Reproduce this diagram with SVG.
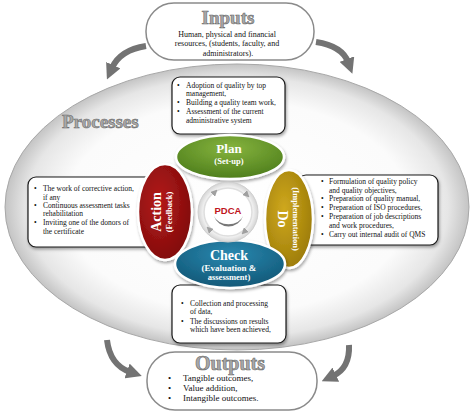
<svg xmlns="http://www.w3.org/2000/svg" width="474" height="413" viewBox="0 0 474 413">
<defs>
  <radialGradient id="gBig" cx="0.5" cy="0.5" r="0.5">
    <stop offset="0" stop-color="#ffffff"/>
    <stop offset="0.74" stop-color="#fbfbfb"/>
    <stop offset="0.91" stop-color="#e6e6e6"/>
    <stop offset="1" stop-color="#c4c4c4"/>
  </radialGradient>
  <radialGradient id="gPlan" cx="0.5" cy="0.3" r="0.7">
    <stop offset="0" stop-color="#86b43e"/>
    <stop offset="1" stop-color="#4e7e1c"/>
  </radialGradient>
  <radialGradient id="gDo" cx="0.4" cy="0.4" r="0.7">
    <stop offset="0" stop-color="#cfa81e"/>
    <stop offset="1" stop-color="#987806"/>
  </radialGradient>
  <radialGradient id="gAct" cx="0.4" cy="0.4" r="0.7">
    <stop offset="0" stop-color="#b41a1a"/>
    <stop offset="1" stop-color="#7c0a0a"/>
  </radialGradient>
  <radialGradient id="gChk" cx="0.5" cy="0.3" r="0.7">
    <stop offset="0" stop-color="#2a88b0"/>
    <stop offset="1" stop-color="#115877"/>
  </radialGradient>
  <radialGradient id="gPdca" cx="0.5" cy="0.5" r="0.5">
    <stop offset="0" stop-color="#ffffff"/>
    <stop offset="0.75" stop-color="#ffffff"/>
    <stop offset="1" stop-color="#d4d4d4"/>
  </radialGradient>
  <filter id="sh" x="-20%" y="-20%" width="140%" height="140%">
    <feDropShadow dx="1" dy="2" stdDeviation="1.5" flood-color="#000" flood-opacity="0.35"/>
  </filter>
  <marker id="ah" viewBox="0 0 10 10" refX="2" refY="5" markerWidth="2.6" markerHeight="2.6" orient="auto" markerUnits="strokeWidth">
    <path d="M0,0 L10,5 L0,10 z" fill="#737373"/>
  </marker>
  <marker id="sa" viewBox="0 0 10 10" refX="5" refY="5" markerWidth="7" markerHeight="7" orient="auto" markerUnits="userSpaceOnUse">
    <path d="M0,0 L10,5 L0,10 z" fill="#a0a0a0"/>
  </marker>
</defs>
<style>
  .title { font-family: "Liberation Serif", serif; font-weight: bold; fill: #a8a8a8; stroke: #6a6a6a; stroke-width: 0.6; }
  .body { font-family: "Liberation Serif", serif; font-size: 7.5px; fill: #111; }
  .io { font-family: "Liberation Serif", serif; font-size: 8px; fill: #111; }
  .out { font-family: "Liberation Serif", serif; font-size: 9px; fill: #111; }
  .box { fill: #ffffff; stroke: #1a1a1a; stroke-width: 1.2; }
  .pill { fill: #ffffff; stroke: #8a8a8a; stroke-width: 1.5; }
  .ell { stroke: #ffffff; stroke-width: 2.5; }
  .lab { font-family: "Liberation Serif", serif; font-weight: bold; fill: #ffffff; text-anchor: middle; }
  .conn { fill: none; stroke: #737373; stroke-width: 6; marker-end: url(#ah); }
</style>

<g id="processes">
  <ellipse cx="237" cy="207" rx="232" ry="143" fill="url(#gBig)" stroke="#a8a8a8" stroke-width="1"/>
  <text class="title" x="62" y="128" font-size="19">Processes</text>
</g>

<g id="inputs">
  <rect class="pill" x="146" y="3" width="168" height="57" rx="28"/>
  <text class="title" x="228" y="24" font-size="19" text-anchor="middle">Inputs</text>
  <text class="io" text-anchor="middle">
    <tspan x="228" y="37">Human, physical and financial</tspan>
    <tspan x="228" y="46">resources, (students, faculty, and</tspan>
    <tspan x="228" y="56">administrators).</tspan>
  </text>
</g>

<g id="outputs">
  <rect class="pill" x="147" y="352" width="170" height="58" rx="28"/>
  <text class="title" x="230" y="370" font-size="20" text-anchor="middle">Outputs</text>
  <text class="out">
    <tspan x="168" y="381">•</tspan><tspan x="183" y="381">Tangible outcomes,</tspan>
    <tspan x="168" y="391">•</tspan><tspan x="183" y="391">Value addition,</tspan>
    <tspan x="168" y="401">•</tspan><tspan x="183" y="401">Intangible outcomes.</tspan>
  </text>
</g>

<g id="connectors">
  <path class="conn" d="M146,46 Q120,50 112,68"/>
  <path class="conn" d="M316,42 Q342,46 348,62"/>
  <path class="conn" d="M107,340 Q110,365 130,372"/>
  <path class="conn" d="M349,345 Q350,368 333,376"/>
</g>

<g id="plan-box">
  <rect class="box" x="172" y="77" width="113" height="57" rx="8" filter="url(#sh)"/>
  <text class="body">
    <tspan x="177" y="88">•</tspan><tspan x="186" y="88">Adoption of quality by top</tspan>
    <tspan x="186" y="96">management,</tspan>
    <tspan x="177" y="105">•</tspan><tspan x="186" y="105">Building a quality team work,</tspan>
    <tspan x="177" y="114">•</tspan><tspan x="186" y="114">Assessment  of the current</tspan>
    <tspan x="186" y="123">administrative system</tspan>
  </text>
</g>

<g id="action-box">
  <rect class="box" x="28" y="177" width="132" height="70" rx="8" filter="url(#sh)"/>
  <text class="body">
    <tspan x="34" y="191">•</tspan><tspan x="43" y="191">The work of corrective action,</tspan>
    <tspan x="43" y="200">if any</tspan>
    <tspan x="34" y="208">•</tspan><tspan x="43" y="208">Continuous assessment tasks</tspan>
    <tspan x="43" y="216">rehabilitation</tspan>
    <tspan x="34" y="225">•</tspan><tspan x="43" y="225">Inviting one of the donors of</tspan>
    <tspan x="43" y="234">the certificate</tspan>
  </text>
</g>

<g id="do-box">
  <rect class="box" x="298" y="175" width="140" height="70" rx="8" filter="url(#sh)"/>
  <text class="body">
    <tspan x="321" y="184">•</tspan><tspan x="329" y="184">Formulation of quality policy</tspan>
    <tspan x="329" y="193">and quality objectives,</tspan>
    <tspan x="321" y="201">•</tspan><tspan x="329" y="201">Preparation of quality manual,</tspan>
    <tspan x="321" y="210">•</tspan><tspan x="329" y="210">Preparation of ISO procedures,</tspan>
    <tspan x="321" y="219">•</tspan><tspan x="329" y="219">Preparation of job descriptions</tspan>
    <tspan x="329" y="228">and work procedures,</tspan>
    <tspan x="321" y="237">•</tspan><tspan x="329" y="237">Carry out internal audit of QMS</tspan>
  </text>
</g>

<g id="check-box">
  <rect class="box" x="172" y="285" width="114" height="58" rx="8" filter="url(#sh)"/>
  <text class="body">
    <tspan x="181" y="306">•</tspan><tspan x="190" y="306">Collection and processing</tspan>
    <tspan x="190" y="314">of data,</tspan>
    <tspan x="181" y="324">•</tspan><tspan x="190" y="324">The discussions on results</tspan>
    <tspan x="190" y="332">which have been achieved,</tspan>
  </text>
</g>

<g id="plan">
  <ellipse class="ell" cx="230" cy="157" rx="54" ry="22" fill="url(#gPlan)" filter="url(#sh)"/>
  <text class="lab" x="229" y="153" font-size="13">Plan</text>
  <text class="lab" x="229" y="164" font-size="8.5">(Set-up)</text>
</g>

<g id="do">
  <ellipse class="ell" cx="289" cy="219" rx="24" ry="49" fill="url(#gDo)" filter="url(#sh)"/>
  <text class="lab" font-size="14" transform="translate(278,219) rotate(90)">Do</text>
  <text class="lab" font-size="8.5" transform="translate(293,219) rotate(90)">(Implementation)</text>
</g>

<g id="action">
  <ellipse class="ell" cx="165" cy="212" rx="27" ry="48" fill="url(#gAct)" filter="url(#sh)"/>
  <text class="lab" font-size="14" transform="translate(161,212) rotate(-90)">Action</text>
  <text class="lab" font-size="8.5" transform="translate(172,212) rotate(-90)">(Feedback)</text>
</g>

<g id="check">
  <ellipse class="ell" cx="230" cy="264" rx="55" ry="24" fill="url(#gChk)" filter="url(#sh)"/>
  <text class="lab" x="229" y="260" font-size="14">Check</text>
  <text class="lab" x="229" y="271" font-size="9">(Evaluation &amp;</text>
  <text class="lab" x="229" y="280" font-size="8.5">assessment)</text>
</g>

<g id="pdca">
  <circle cx="228" cy="212" r="30" fill="url(#gPdca)" stroke="#cfcfcf" stroke-width="1"/>
  <circle cx="228" cy="212" r="24" fill="none" stroke="#dedede" stroke-width="1.5"/>
  <path d="M212,195 L215,192" stroke="none" fill="none" marker-end="url(#sa)"/>
  <path d="M244,192 L247,195" stroke="none" fill="none" marker-end="url(#sa)"/>
  <path d="M247,229 L244,232" stroke="none" fill="none" marker-end="url(#sa)"/>
  <path d="M212,232 L209,229" stroke="none" fill="none" marker-end="url(#sa)"/>
  <path d="M214,216 A15,14 0 0 0 243,216 A15,11 0 0 1 214,216 z" fill="#555555" opacity="0.8"/>
  <text x="228" y="214" font-family="Liberation Sans, sans-serif" font-weight="bold" font-size="9.5" fill="#c0141c" text-anchor="middle">PDCA</text>
</g>
</svg>
